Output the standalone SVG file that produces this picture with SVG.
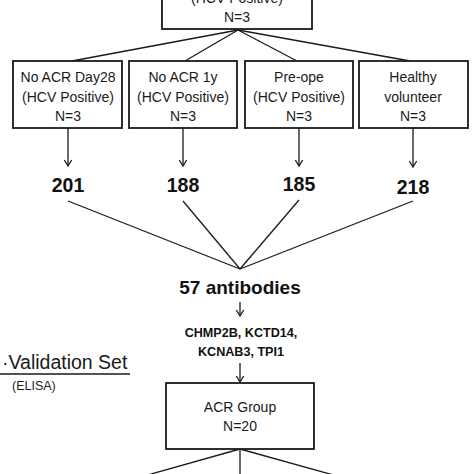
<svg xmlns="http://www.w3.org/2000/svg" width="474" height="474" viewBox="0 0 474 474">
<defs>
<style>
.box{fill:#fff;stroke:#1a1a1a;stroke-width:1.8}
.t{font-family:"Liberation Sans",Arial,sans-serif;font-size:14px;fill:#1a1a1a;text-anchor:middle}
.b{font-family:"Liberation Sans",Arial,sans-serif;font-weight:bold;fill:#111;text-anchor:middle}
.ln{stroke:#1a1a1a;stroke-width:1.3;fill:none}
.ar{stroke:#1a1a1a;stroke-width:1.3;fill:none;marker-end:url(#ah)}
</style>
<marker id="ah" markerUnits="userSpaceOnUse" markerWidth="10" markerHeight="10" viewBox="0 0 10 10" refX="8" refY="5" orient="auto">
<path d="M2,1.3 L8,5 L2,8.7" fill="none" stroke="#1a1a1a" stroke-width="1.3"/>
</marker>
</defs>
<rect width="474" height="474" fill="#fff"/>
<g id="connectors">
<line class="ln" x1="238" y1="30" x2="72" y2="61"/>
<line class="ln" x1="238" y1="30" x2="185" y2="61"/>
<line class="ln" x1="238" y1="30" x2="297" y2="61"/>
<line class="ln" x1="238" y1="30" x2="410" y2="61"/>
<line class="ar" x1="68" y1="128" x2="68" y2="166"/>
<line class="ar" x1="183" y1="128" x2="183" y2="166"/>
<line class="ar" x1="299" y1="128" x2="299" y2="166"/>
<line class="ar" x1="413" y1="128" x2="413" y2="167"/>
<line class="ln" x1="68" y1="201" x2="240" y2="269"/>
<line class="ln" x1="183" y1="201" x2="240" y2="269"/>
<line class="ln" x1="299" y1="200" x2="240" y2="269"/>
<line class="ln" x1="413" y1="201" x2="240" y2="269"/>
<line class="ar" x1="240" y1="302" x2="240" y2="316"/>
<line class="ar" x1="240" y1="363" x2="240" y2="382"/>
<line class="ln" x1="240" y1="449" x2="144" y2="476"/>
<line class="ln" x1="240" y1="449" x2="240" y2="476"/>
<line class="ln" x1="240" y1="449" x2="337" y2="476"/>
</g>
<g id="top">
<rect class="box" x="162" y="-20" width="150" height="49"/>
<text class="t" x="237" y="3">(HCV Positive)</text>
<text class="t" x="237" y="22">N=3</text>
</g>
<g id="noacr28">
<rect class="box" x="13" y="61" width="109" height="67"/>
<text class="t" x="68" y="82">No ACR Day28</text>
<text class="t" x="68" y="102">(HCV Positive)</text>
<text class="t" x="68" y="121">N=3</text>
</g>
<g id="noacr1y">
<rect class="box" x="129" y="61" width="108" height="67"/>
<text class="t" x="183" y="82">No ACR 1y</text>
<text class="t" x="183" y="102">(HCV Positive)</text>
<text class="t" x="183" y="121">N=3</text>
</g>
<g id="preope">
<rect class="box" x="245" y="61" width="108" height="67"/>
<text class="t" x="299" y="82">Pre-ope</text>
<text class="t" x="299" y="102">(HCV Positive)</text>
<text class="t" x="299" y="121">N=3</text>
</g>
<g id="healthy">
<rect class="box" x="359" y="61" width="109" height="67"/>
<text class="t" x="413" y="82">Healthy</text>
<text class="t" x="413" y="102">volunteer</text>
<text class="t" x="413" y="121">N=3</text>
</g>
<g id="n201"><text class="b" x="68" y="192" font-size="19.5">201</text></g>
<g id="n188"><text class="b" x="183" y="191.5" font-size="19.5">188</text></g>
<g id="n185"><text class="b" x="299" y="190.5" font-size="19.5">185</text></g>
<g id="n218"><text class="b" x="413" y="193.5" font-size="19.5">218</text></g>
<g id="antibodies"><text class="b" x="240" y="294" font-size="19">57 antibodies</text></g>
<g id="candidates">
<text class="b" x="241" y="337" font-size="12.6">CHMP2B, KCTD14,</text>
<text class="b" x="241" y="356" font-size="12.6">KCNAB3, TPI1</text>
</g>
<g id="acr">
<rect class="box" x="166" y="383" width="148" height="66"/>
<text class="t" x="240" y="412">ACR Group</text>
<text class="t" x="240" y="430.5">N=20</text>
</g>
<g id="validation">
<text x="2" y="369" font-family="'Liberation Sans',Arial,sans-serif" font-size="19.5" fill="#1a1a1a">·Validation Set</text>
<line x1="0" y1="374" x2="130" y2="374" stroke="#1a1a1a" stroke-width="1.5"/>
<text x="12" y="390" font-family="'Liberation Sans',Arial,sans-serif" font-size="12.5" fill="#1a1a1a">(ELISA)</text>
</g>
</svg>
